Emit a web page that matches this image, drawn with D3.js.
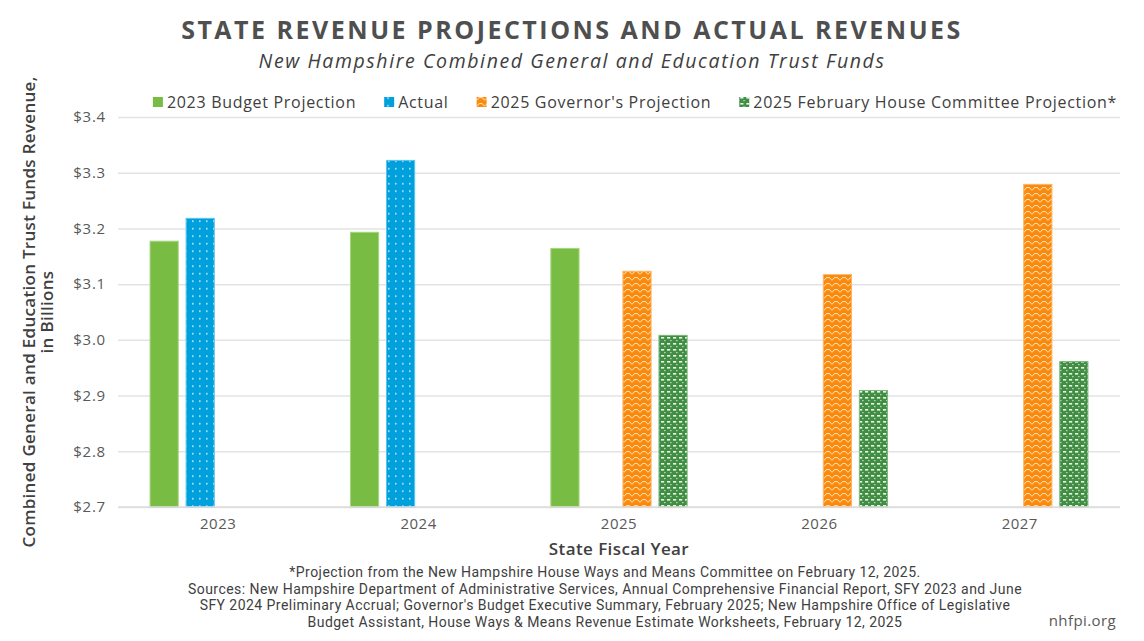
<!DOCTYPE html>
<html><head><meta charset="utf-8">
<script src="https://cdn.jsdelivr.net/npm/d3@7"></script>
<style>
body{margin:0;background:#fff;}
svg{display:block;}
</style></head>
<body>
<svg id="chart" width="1144" height="641"></svg>
<script>
const years = ["2023","2024","2025","2026","2027"];
const seriesNames = ["2023 Budget Projection","Actual","2025 Governor's Projection","2025 February House Committee Projection*"];
const budget2023 = [3.178, 3.194, 3.165, null, null];
const actual = [3.219, 3.323, null, null, null];
const governor2025 = [null, null, 3.124, 3.118, 3.280];
const house2025 = [null, null, 3.009, 2.910, 2.962];
const yTicks = [2.7, 2.8, 2.9, 3.0, 3.1, 3.2, 3.3, 3.4];
const titleText = "STATE REVENUE PROJECTIONS AND ACTUAL REVENUES";
const subtitleText = "New Hampshire Combined General and Education Trust Funds";
const yTitleLines = ["Combined General and Education Trust Funds Revenue,", "in Billions"];
const xTitleText = "State Fiscal Year";
const footLines = [
  "*Projection from the New Hampshire House Ways and Means Committee on February 12, 2025.",
  "Sources: New Hampshire Department of Administrative Services, Annual Comprehensive Financial Report, SFY 2023 and June",
  "SFY 2024 Preliminary Accrual; Governor's Budget Executive Summary, February 2025; New Hampshire Office of Legislative",
  "Budget Assistant, House Ways & Means Revenue Estimate Worksheets, February 12, 2025"
];
const sourceTag = "nhfpi.org";

const seriesValues = [budget2023, actual, governor2025, house2025];
const colors = ["#78bc43", "#00a0dd", "#f98a0e", "#3f8e42"];
const edgeColors = ["#a6d67f", "#5cc4ee", "#fcb565", "#7cb87e"];
const fills = ["#78bc43", "url(#patDots)", "url(#patWave)", "url(#patWeave)"];

const svg = d3.select("#chart");
const m = {left:118, right:1120, top:117, bottom:507};
const font = "'Open Sans', 'DejaVu Sans', sans-serif";

// patterns
const defs = svg.append("defs");
const pd = defs.append("pattern").attr("id","patDots").attr("patternUnits","userSpaceOnUse").attr("width",7).attr("height",7.5);
pd.append("rect").attr("width",7).attr("height",7.5).attr("fill",colors[1]);
pd.append("rect").attr("x",3).attr("y",3).attr("width",1.6).attr("height",1.4).attr("fill","#ffffff").attr("opacity",0.85);

const pw = defs.append("pattern").attr("id","patWave").attr("patternUnits","userSpaceOnUse").attr("width",8).attr("height",6);
pw.append("rect").attr("width",8).attr("height",6).attr("fill",colors[2]);
pw.append("path").attr("d","M-2,4 L0,4.5 L2,2 L3,1.5 L5,1.5 L6,2 L8,4.5 L10,4").attr("fill","none").attr("stroke","#ffe1b8").attr("stroke-width",1);

const pv = defs.append("pattern").attr("id","patWeave").attr("patternUnits","userSpaceOnUse").attr("width",6).attr("height",6);
pv.append("rect").attr("width",6).attr("height",6).attr("fill",colors[3]);
pv.append("rect").attr("x",1).attr("y",1).attr("width",3.2).attr("height",1.6).attr("fill","#ffffff").attr("opacity",0.9);
pv.append("rect").attr("x",4).attr("y",4).attr("width",1.6).attr("height",1.2).attr("fill","#ffffff").attr("opacity",0.6);

// scales
const x0 = d3.scaleBand().domain(years).range([m.left, m.right]).paddingInner(0.315).paddingOuter(0.1575);
const x1 = d3.scaleBand().domain(d3.range(4)).range([0, x0.bandwidth()]).paddingInner(0.19).paddingOuter(0);
const y = d3.scaleLinear().domain([2.7, 3.4]).range([m.bottom, m.top]);

// title
svg.append("text").attr("x",572).attr("y",39).attr("text-anchor","middle")
  .attr("font-family","'Open Sans', sans-serif").attr("font-weight",700).attr("font-size",25)
  .attr("letter-spacing",2.5).attr("fill","#4f4f4f").text(titleText);
svg.append("text").attr("x",572).attr("y",68).attr("text-anchor","middle")
  .attr("font-family",font).attr("font-style","italic").attr("font-size",19.5)
  .attr("letter-spacing",1.6).attr("fill","#404040").text(subtitleText);

// gridlines
const yAxis = d3.axisLeft(y).tickValues(yTicks).tickFormat(d => "$" + d3.format(".1f")(d)).tickSize(-(m.right - m.left)).tickPadding(12);
const gy = svg.append("g").attr("transform",`translate(${m.left},0)`).call(yAxis);
gy.select(".domain").remove();
gy.selectAll(".tick line").attr("stroke","#e3e3e3").attr("stroke-width",1.5);
gy.selectAll(".tick text").attr("font-family",font).attr("font-size",15).attr("letter-spacing",0.8).attr("fill","#595959");

// bars
seriesValues.forEach((vals, si) => {
  svg.append("g").selectAll("rect").data(years.map((yr,i)=>({yr, v: vals[i]})).filter(d=>d.v!=null))
    .join("rect")
    .attr("x", d => x0(d.yr) + x1(si) + 0.5)
    .attr("y", d => y(d.v) + 0.5)
    .attr("width", x1.bandwidth() - 1)
    .attr("height", d => y(2.7) - y(d.v) - 0.5)
    .attr("fill", fills[si])
    .attr("stroke", edgeColors[si]).attr("stroke-width",1);
});

// baseline
svg.append("line").attr("x1",m.left).attr("x2",m.right).attr("y1",y(2.7)).attr("y2",y(2.7)).attr("stroke","#dcdcdc").attr("stroke-width",1.5);

// x axis
const xAxis = d3.axisBottom(x0).tickSize(0).tickPadding(11);
const gx = svg.append("g").attr("transform",`translate(0,${m.bottom})`).call(xAxis);
gx.select(".domain").remove();
gx.selectAll(".tick text").attr("font-family",font).attr("font-size",15).attr("letter-spacing",0.5).attr("fill","#595959");

svg.append("text").attr("x",619).attr("y",555).attr("text-anchor","middle")
  .attr("font-family",font).attr("font-weight",600).attr("font-size",17).attr("letter-spacing",0.4).attr("fill","#404040").text(xTitleText);

// y title
const yt = svg.append("text").attr("transform",`translate(35,312) rotate(-90)`).attr("text-anchor","middle")
  .attr("font-family",font).attr("font-weight",600).attr("font-size",17).attr("letter-spacing",0.3).attr("fill","#404040");
yTitleLines.forEach((t,i)=> yt.append("tspan").attr("x",0).attr("dy", i===0?0:18).text(t));

// legend
const lg = svg.append("g");
const items = [];
seriesNames.forEach((name, i) => {
  const g = lg.append("g");
  g.append("rect").attr("x",0).attr("y",-5).attr("width",10).attr("height",10).attr("fill",fills[i]);
  const t = g.append("text").attr("x",14).attr("y",5.5).attr("font-family",font).attr("font-size",16)
    .attr("letter-spacing",0.7).attr("fill","#404040").text(name);
  const w = 14 + t.node().getComputedTextLength();
  items.push({g, w});
});
const gap = 28;
const totalW = d3.sum(items, d=>d.w) + gap*(items.length-1);
let cx = 635 - totalW/2;
items.forEach(it => { it.g.attr("transform",`translate(${cx},102)`); cx += it.w + gap; });

// footnotes
const ft = svg.append("text").attr("text-anchor","middle")
  .attr("font-family","'Liberation Sans Narrow', 'Roboto', sans-serif").attr("font-size",14)
  .attr("letter-spacing",0.45).attr("fill","#404040");
footLines.forEach((t,i)=> ft.append("tspan").attr("x",605).attr("y",577 + i*16.5).text(t));

svg.append("text").attr("x",1116).attr("y",626).attr("text-anchor","end")
  .attr("font-family",font).attr("font-size",15).attr("letter-spacing",0.4).attr("fill","#595959").text(sourceTag);
</script>
</body></html>
